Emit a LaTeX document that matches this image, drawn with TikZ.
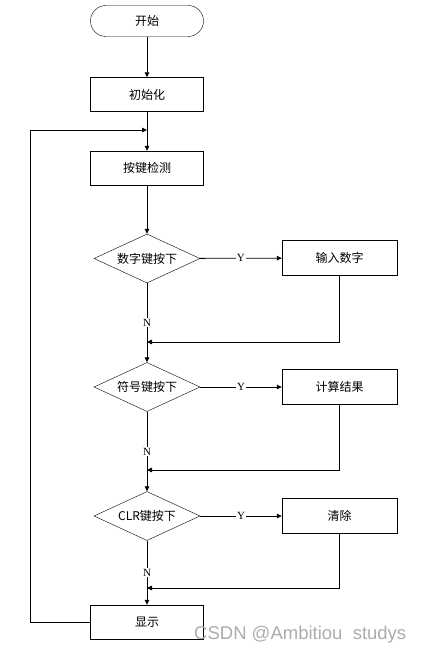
\documentclass[tikz,border=0pt]{standalone}
\usepackage{fontspec}
\setmainfont{Liberation Serif}
\newfontfamily\cjk{Noto Sans CJK SC}
\newfontfamily\wmfont{Liberation Sans}
\usetikzlibrary{shapes.geometric,arrows.meta}
\begin{document}
\begin{tikzpicture}[x=1pt,y=-1pt,
  every node/.style={font=\cjk\fontsize{12}{14}\selectfont},
  term/.style={draw,rounded corners=15.5pt,minimum width=113pt,minimum height=31pt,inner sep=0pt},
  proc/.style={draw,minimum width=113pt,minimum height=34pt,inner sep=0pt},
  side/.style={draw,minimum width=115pt,minimum height=35pt,inner sep=0pt},
  dec/.style={draw,diamond,aspect=2.16,minimum width=106pt,minimum height=49pt,inner sep=0pt},
  arr/.style={draw,line width=0.8pt,-{Triangle[length=5pt,width=4.5pt]}},
  lab/.style={fill=white,inner sep=1pt,font=\rmfamily\fontsize{11}{12}\selectfont}]
\useasboundingbox (0,0) rectangle (425,655);
\node[term] (start) at (147,21) {开始};
\node[proc] (init) at (147,94.5) {初始化};
\node[proc] (check) at (147,168) {按键检测};
\node[dec] (d1) at (147,258.5) {数字键按下};
\node[side] (b1) at (339.5,258) {输入数字};
\node[dec] (d2) at (147,387) {符号键按下};
\node[side] (b2) at (339.5,387) {计算结果};
\node[dec] (d3) at (147,516) {CLR键按下};
\node[side] (b3) at (339.5,516) {清除};
\node[proc] (disp) at (147,622) {显示};
\coordinate (j0) at (147,130);
\coordinate (m1) at (147,342);
\coordinate (m2) at (147,470);
\coordinate (m3) at (147,588);
\coordinate (lp) at (30,622);
\path[arr] (start) -- (init);
\path[arr] (init) -- (check);
\path[arr] (check) -- (d1);
\path[arr] (d1) -- node[lab] {Y} (b1);
\path[arr] (d2) -- node[lab] {Y} (b2);
\path[arr] (d3) -- node[lab] {Y} (b3);
\path[arr] (d1) -- node[lab,pos=0.5] {N} (d2);
\path[arr] (d2) -- node[lab,pos=0.5] {N} (d3);
\path[arr] (d3) -- node[lab,pos=0.5] {N} (disp);
\path[arr] (b1.south) |- (m1);
\path[arr] (b2.south) |- (m2);
\path[arr] (b3.south) |- (m3);
\path[arr] (disp.west) -- (lp) |- (j0);
\node[font=\wmfont\fontsize{18.5}{20}\selectfont,text=gray!65,anchor=west,inner sep=0pt] (wm) at (194,635) {CSDN @Ambitiou\ \ studys};
\end{tikzpicture}
\end{document}
